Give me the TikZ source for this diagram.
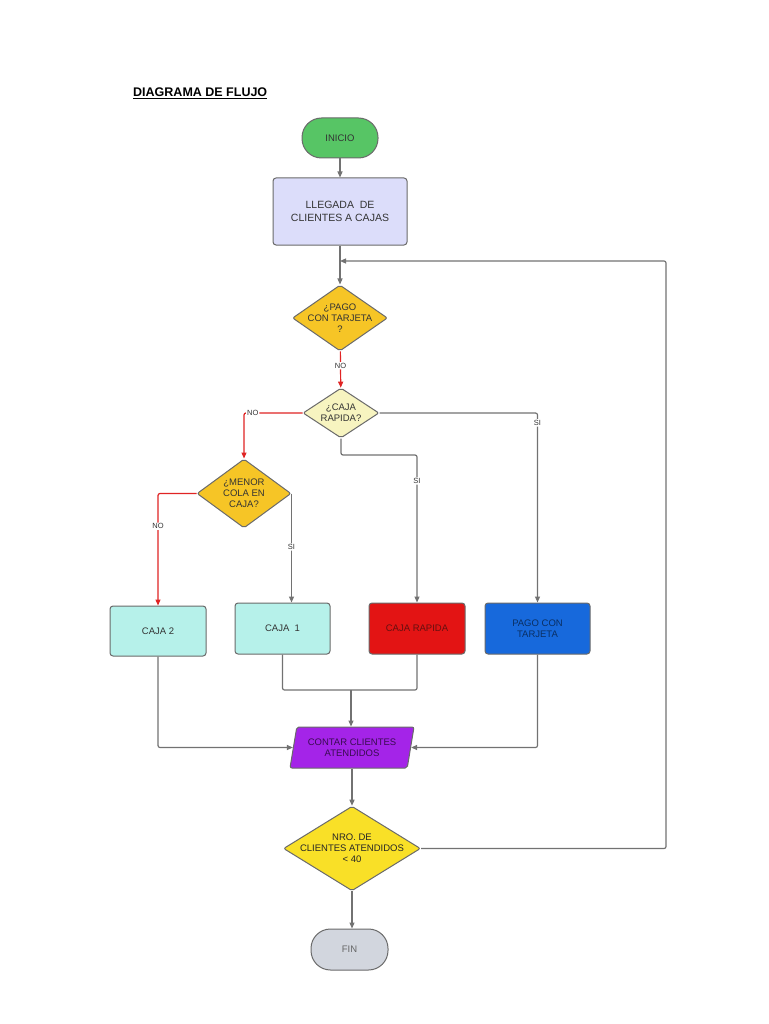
\documentclass[tikz,border=0pt]{standalone}
\usepackage{fontspec}
\setmainfont{Liberation Sans}
\usetikzlibrary{shapes.geometric,arrows.meta}

\definecolor{borde}{HTML}{6A6A6A}
\definecolor{linea}{HTML}{727272}
\definecolor{rojo}{HTML}{E02424}
\definecolor{texto}{HTML}{333333}
\definecolor{verde}{HTML}{57C565}
\definecolor{lila}{HTML}{DCDDFA}
\definecolor{oro}{HTML}{F6C526}
\definecolor{crema}{HTML}{F7F4C0}
\definecolor{celeste}{HTML}{B6F1EA}
\definecolor{rapido}{HTML}{E31414}
\definecolor{azul}{HTML}{1769DC}
\definecolor{morado}{HTML}{A424E8}
\definecolor{amarillo}{HTML}{F9E027}
\definecolor{gris}{HTML}{D2D6DE}

\tikzset{
	letra/.style={font=\fontsize{9.5}{11}\selectfont},
	caja/.style={draw=borde, line width=1pt, rounded corners=3pt, minimum width=96, minimum height=50, align=center, text=texto, letra},
	terminal/.style={draw=borde, line width=1pt, rounded corners=19.5pt, minimum width=76, minimum height=40, text=texto, letra},
	decision/.style={diamond, draw=borde, line width=1pt, rounded corners=2pt, inner sep=-12pt, align=center, text=texto, letra},
	datos/.style={trapezium, trapezium left angle=71, trapezium right angle=109, trapezium stretches body, draw=borde, line width=1pt, rounded corners=2pt, minimum width=124, minimum height=41, inner sep=1pt, align=center, letra},
	flecha/.style={draw=linea, line width=1.2pt, rounded corners=2pt, -{Triangle[length=6pt,width=5pt]}},
	linea/.style={draw=linea, line width=1.2pt, rounded corners=2pt},
	flechano/.style={flecha, draw=rojo, -{Triangle[length=6pt,width=5pt,fill=rojo]}},
	etiqueta/.style={fill=white, inner sep=1pt, text=texto, font=\fontsize{7.5}{8}\selectfont},
}

\begin{document}
\begin{tikzpicture}[x=1pt,y=-1pt]
	\useasboundingbox[fill=white] (0,0) rectangle (768,1024);

	% titulo
	\node [anchor=base west, inner sep=0pt, font=\bfseries\fontsize{12.5}{14}\selectfont] (titulo) at (133,97) {\underline{DIAGRAMA DE FLUJO}};

	% nodos
	\node [terminal, fill=verde] (inicio) at (340,138) {INICIO};
	\node [caja, fill=lila, minimum width=134, minimum height=67, font=\fontsize{10.5}{13}\selectfont] (llegada) at (340,211.5) {LLEGADA\ \ DE\\CLIENTES A CAJAS};
	\node [decision, fill=oro, minimum width=95, minimum height=66] (pago) at (340,318) {¿PAGO\\CON TARJETA\\?};
	\node [decision, fill=crema, minimum width=76, minimum height=50] (rapida) at (341,413) {¿CAJA\\RAPIDA?};
	\node [decision, fill=oro, minimum width=94, minimum height=69] (menor) at (244,493.5) {¿MENOR\\COLA EN\\CAJA?};

	\node [caja, fill=celeste] (caja2) at (158,631) {CAJA 2};
	\node [caja, fill=celeste, minimum width=95, minimum height=51] (caja1) at (282.5,628.5) {CAJA\ \ 1};
	\node [caja, fill=rapido, text=rojo!45!black, minimum height=51] (crapida) at (417,628.5) {CAJA RAPIDA};
	\node [caja, fill=azul, text=azul!45!black, minimum width=105, minimum height=51] (tarjeta) at (537.5,628.5) {PAGO CON\\TARJETA};

	\node [datos, fill=morado, text=morado!35!black] (contar) at (352,747.5) {CONTAR CLIENTES\\ATENDIDOS};
	\node [decision, fill=amarillo, text=black!85, minimum width=137, minimum height=61] (nro) at (352,848.5) {NRO. DE\\CLIENTES ATENDIDOS\\\textless{} 40};
	\node [terminal, fill=gris, text=black!60, minimum width=77, minimum height=41] (fin) at (349.5,949.5) {FIN};

	% puntos de quiebre
	\coordinate (retorno) at (340,261);
	\coordinate (baja) at (341,455);
	\coordinate (junta) at (351,690);
	\coordinate (derecha) at (666,848.5);

	% conectores
	\draw [flecha] (inicio) -- (llegada);
	\draw [flecha] (llegada) -- (pago);
	\draw [flechano] (pago) -- node [etiqueta, pos=0.4] {NO} (rapida);
	\draw [flechano] (rapida.west) -- (244,413) node [etiqueta, pos=0.85] {NO} -- (menor.north);
	\draw [flecha] (rapida.east) -| node [etiqueta, pos=0.526] {SI} (tarjeta.north);
	\draw [flecha] (rapida.south) -- (baja) -| node [etiqueta, pos=0.588] {SI} (crapida.north);
	\draw [flechano] (menor.west) -| node [etiqueta, pos=0.646] {NO} (caja2.north);
	\draw [flecha] (menor.east) -- node [etiqueta, pos=0.49] {SI} (menor.east |- caja1.north);

	\draw [linea] (caja1.south) |- (junta) -| (crapida.south);
	\draw [flecha] (junta) -- (contar.north -| junta);
	\draw [flecha] (caja2.south) |- (contar.west);
	\draw [flecha] (tarjeta.south) |- (contar.east);

	\draw [flecha] (contar.south -| nro) -- (nro.north);
	\draw [flecha] (nro.east) -- (derecha) |- (retorno);
	\draw [flecha] (nro.south) -- (nro.south |- fin.north);
\end{tikzpicture}
\end{document}
